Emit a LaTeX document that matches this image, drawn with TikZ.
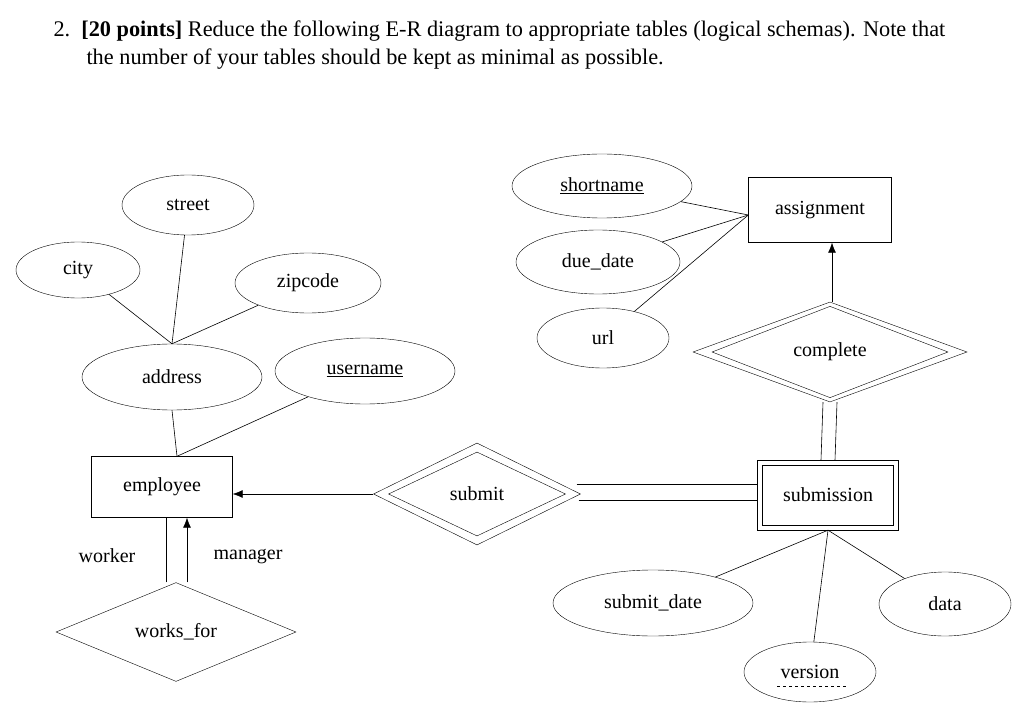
\documentclass[tikz,border=0pt]{standalone}
\usepackage{fontspec}
\setmainfont{Liberation Serif}
\usetikzlibrary{shapes.geometric,arrows.meta}
\begin{document}
\begin{tikzpicture}[x=1pt,y=-1pt,
 every node/.style={font=\fontsize{20}{24}\selectfont},
 attr/.style={draw,ellipse,inner sep=0pt},
 ent/.style={draw,rectangle,inner sep=0pt},
 rel/.style={draw,diamond,inner sep=0pt},
 ln/.style={draw,line width=0.6pt},
 arr/.style={ln,-{Latex[length=10pt,width=8pt]}}]
\useasboundingbox (0,0) rectangle (1024,708);
\node[anchor=west,font=\fontsize{22.3}{24}\selectfont] (h1) at (50,31) {2.\ \ \textbf{[20 points]} Reduce the following E-R diagram to appropriate tables (logical schemas). Note that};
\node[anchor=west,font=\fontsize{22.3}{24}\selectfont] (h2) at (83,59) {the number of your tables should be kept as minimal as possible.};

\node[attr,minimum width=132,minimum height=60] (street) at (188,205) {street};
\node[attr,minimum width=124,minimum height=56] (city) at (78,270) {city};
\node[attr,minimum width=146,minimum height=60] (zip) at (308,283) {zipcode};
\node[attr,minimum width=180,minimum height=66] (address) at (172,377) {address};
\node[attr,minimum width=180,minimum height=66] (username) at (365,371) {\underline{username}};
\node[ent,minimum width=141,minimum height=61] (employee) at (162,487) {employee};
\node[rel,minimum width=240,minimum height=80] (works) at (176,632) {works\_for};
\node (worker) at (107,556) {worker};
\node (manager) at (248,557) {manager};

\node[rel,minimum width=207,minimum height=102] (submit) at (477,494) {};
\node[rel,minimum width=177,minimum height=84] (submitI) at (477,494) {submit};
\node[ent,minimum width=141,minimum height=70] (submission) at (828,495) {};
\node[ent,minimum width=131,minimum height=60] (submissionI) at (828,495) {submission};
\node[rel,minimum width=274,minimum height=100] (complete) at (830,352) {};
\node[rel,minimum width=236,minimum height=82] (completeI) at (830,352) {complete};
\node[ent,minimum width=143,minimum height=65] (assignment) at (820,210) {assignment};

\node[attr,minimum width=180,minimum height=64] (short) at (602,186) {\underline{shortname}};
\node[attr,minimum width=164,minimum height=64] (due) at (598,262) {due\_date};
\node[attr,minimum width=132,minimum height=60] (url) at (603,338) {url};
\node[attr,minimum width=200,minimum height=66] (sdate) at (653,603) {submit\_date};
\node[attr,minimum width=132,minimum height=64] (data) at (945,604) {data};
\node[attr,minimum width=132,minimum height=60] (version) at (810,672) {version};
\draw[dashed] ([xshift=-33pt,yshift=-14pt]version.center) -- ([xshift=38pt,yshift=-14pt]version.center);

\coordinate (ad) at (address.north);
\draw[ln] (city) -- (ad); \draw[ln] (street) -- (ad); \draw[ln] (zip) -- (ad);
\coordinate (et) at ([xshift=15pt]employee.north);
\draw[ln] (address.south) -- (et); \draw[ln] (username) -- (et);
\draw[ln] ([xshift=-10pt]works.north) -- ([xshift=4pt]employee.south);
\draw[arr] ([xshift=11pt]works.north) -- ([xshift=25pt]employee.south);
\draw[arr] (submit.west) -- (employee.east |- submit.west);
\coordinate (s1) at ([xshift=-2pt,yshift=-6pt]submit.east);
\coordinate (s2) at ([xshift=-4pt,yshift=10pt]submit.east);
\draw[ln] (s1) -- (submission.west |- s1);
\draw[ln] (s2) -- (submission.west |- s2);
\draw[ln] ([xshift=-7pt]complete.south) -- ([xshift=-7pt]submission.north);
\draw[ln] ([xshift=7pt]complete.south) -- ([xshift=7pt]submission.north);
\draw[arr] ([xshift=2pt]complete.north) -- ([xshift=12pt]assignment.south);
\coordinate (al) at ([yshift=-5pt]assignment.west);
\draw[ln] (short) -- (al); \draw[ln] (due) -- (al); \draw[ln] (url) -- (al);
\coordinate (sb) at (submission.south);
\draw[ln] (sb) -- (sdate); \draw[ln] (sb) -- (version); \draw[ln] (sb) -- (data);
\end{tikzpicture}
\end{document}
